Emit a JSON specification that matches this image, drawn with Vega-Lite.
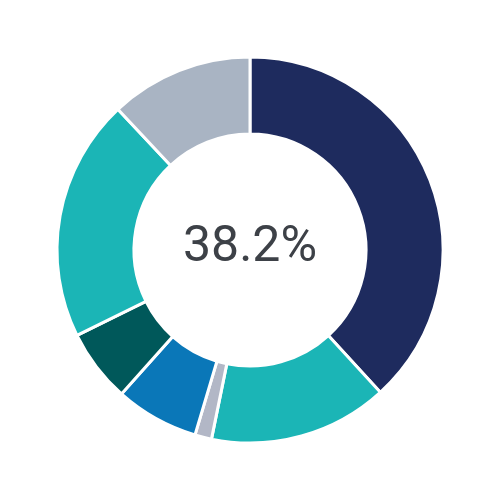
{
  "$schema": "https://vega.github.io/schema/vega-lite/v6.json",
  "width": 500,
  "height": 500,
  "autosize": {"type": "fit", "contains": "padding"},
  "padding": 0,
  "data": {
    "values": [
      {"order": 1, "segment": "A", "share": 38.2},
      {"order": 2, "segment": "B", "share": 15.0},
      {"order": 3, "segment": "C", "share": 1.4},
      {"order": 4, "segment": "D", "share": 7.0},
      {"order": 5, "segment": "E", "share": 6.1},
      {"order": 6, "segment": "F", "share": 20.3},
      {"order": 7, "segment": "G", "share": 12.0}
    ]
  },
  "layer": [
    {
      "mark": {"type": "arc", "outerRadius": 193, "innerRadius": 116, "stroke": "white", "strokeWidth": 3},
      "encoding": {
        "theta": {"field": "share", "type": "quantitative", "stack": true},
        "order": {"field": "order", "type": "quantitative"},
        "color": {
          "field": "segment",
          "type": "nominal",
          "legend": null,
          "scale": {
            "domain": ["A", "B", "C", "D", "E", "F", "G"],
            "range": ["#1e2b5e", "#1bb5b6", "#b2b7c6", "#0a77b8", "#00585a", "#1bb5b6", "#a9b4c3"]
          }
        }
      }
    },
    {
      "data": {"values": [{"label": "38.2%"}]},
      "mark": {"type": "text", "font": "Roboto", "fontSize": 50, "color": "#3d4147", "align": "center", "baseline": "middle", "dy": -4},
      "encoding": {"text": {"field": "label"}}
    }
  ],
  "config": {"view": {"stroke": null}}
}
